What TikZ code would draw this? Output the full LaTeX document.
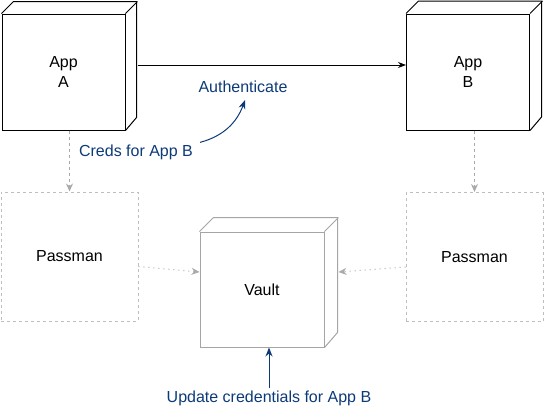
\documentclass[tikz,border=0pt]{standalone}
\usepackage{fontspec}
\setmainfont{Liberation Sans}
\usepackage{tikz}
\usetikzlibrary{arrows.meta,positioning}
\usepackage{xcolor}
\definecolor{credblue}{RGB}{12,58,120}
\definecolor{boxgray}{RGB}{190,190,190}
\definecolor{vaultgray}{RGB}{165,165,165}
\definecolor{flowgray}{RGB}{170,170,170}

\begin{document}
\begin{tikzpicture}[x=1pt,y=-1pt,
  appbox/.style={draw=black,line width=1pt,minimum width=123pt,minimum height=116pt,
                 align=center,font=\fontsize{16}{20}\selectfont},
  passbox/.style={draw=boxgray,line width=1pt,dash pattern=on 3pt off 3pt,
                  minimum width=137pt,minimum height=129pt,font=\fontsize{16}{19}\selectfont},
  vaultbox/.style={draw=vaultgray,line width=1pt,minimum width=124pt,minimum height=115pt,
                   font=\fontsize{16}{19}\selectfont},
  lbl/.style={text=credblue,font=\fontsize{16}{19}\selectfont,inner sep=2pt},
  link/.style={draw=black,line width=1pt,-{Stealth[length=8pt,width=6pt]}},
  feed/.style={draw=flowgray,line width=1pt,dash pattern=on 3pt off 3pt,
               -{Stealth[length=8pt,width=7pt,fill=flowgray]}},
  sync/.style={draw=flowgray,line width=1pt,dash pattern=on 1pt off 4pt,
               -{Stealth[length=8pt,width=7pt,fill=flowgray]}},
  note/.style={draw=credblue,line width=1pt,-{Stealth[length=9pt,width=7pt]}}
]
  \useasboundingbox (0,0) rectangle (545,413);

  %% ---- App A (top left cube) ----
  \node[appbox] (appa) at (63.5,72) {App\\A};
  \draw[line width=1pt] (appa.north west) -- ++(12,-12) -- ++(123,0) -- ++(0,116) -- (appa.south east);
  \draw[line width=1pt] (appa.north east) -- ++(12,-12);

  %% ---- App B (top right cube) ----
  \node[appbox] (appb) at (468,72) {App\\B};
  \draw[line width=1pt] (appb.north west) -- ++(12.5,-12.5) -- ++(123,0) -- ++(0,116) -- (appb.south east);
  \draw[line width=1pt] (appb.north east) -- ++(12.5,-12.5);

  %% ---- Passman boxes ----
  \node[passbox] (passa) at (69.5,256.5) {Passman};
  \node[passbox] (passb) at (474.5,257) {Passman};

  %% ---- Vault (middle cube, grey) ----
  \node[vaultbox] (vault) at (262,289.5) {Vault};
  \draw[vaultgray,line width=1pt] (vault.north west) -- ++(14,-14) -- ++(124,0) -- ++(0,115) -- (vault.south east);
  \draw[vaultgray,line width=1pt] (vault.north east) -- ++(14,-14);

  %% ---- Labels ----
  \node[lbl] (auth) at (243,87) {Authenticate};
  \node[lbl] (creds) at (136,152) {Creds for App B};
  \node[lbl] (update) at (269,398) {Update credentials for App B};

  %% ---- Relationships ----
  % App A authenticates with App B
  \draw[link] ([shift={(12,-7)}]appa.east) -- ([yshift=7pt]appb.west);
  \draw[note] ([shift={(5,0)}]creds.north east) to[out=15,in=-110] ([shift={(2,5)}]auth.south);

  % apps ask their Passman
  \draw[feed] (passa.north |- appa.south) -- (passa.north);
  \draw[feed] (passb.north |- appb.south) -- (passb.north);

  % Passman talks to Vault
  \draw[sync] ([yshift=-10pt]passa.east) -- ([yshift=17.5pt]vault.west);
  \draw[sync] ([yshift=-10pt]passb.west) -- ([shift={(14,-17.5)}]vault.east);

  % credentials are updated
  \draw[note] (update.north) -- (update.north |- vault.south);
\end{tikzpicture}
\end{document}
